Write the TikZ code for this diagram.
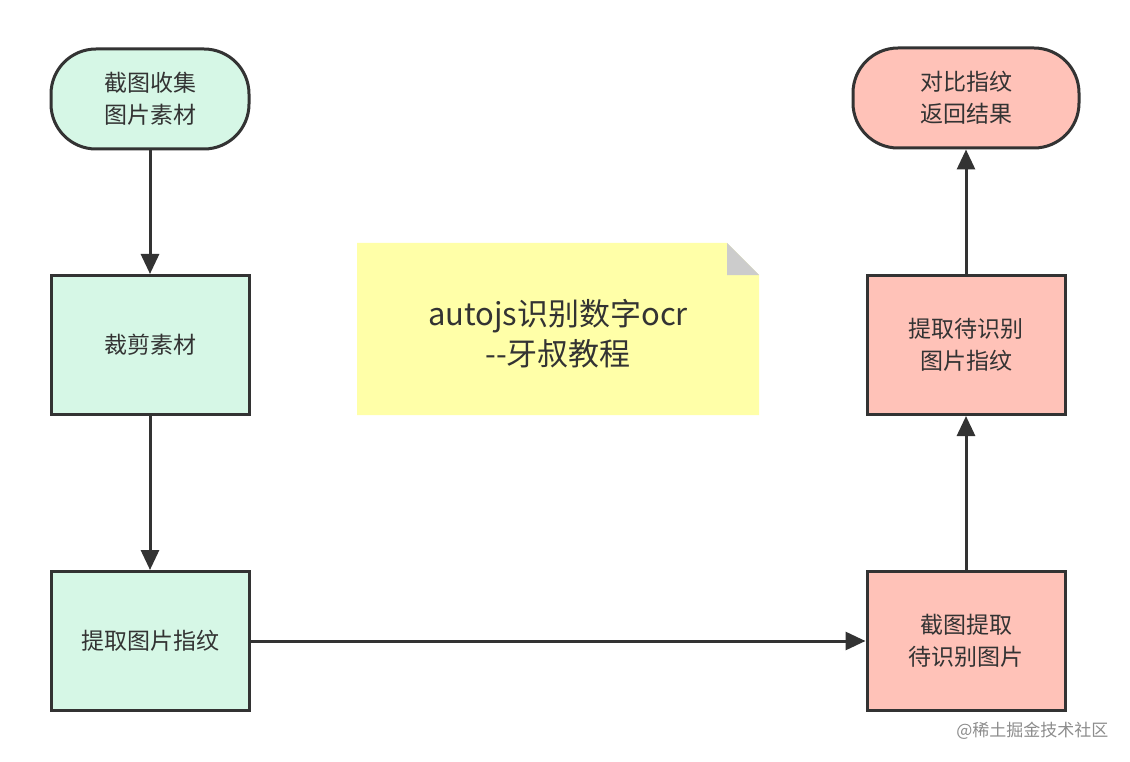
\documentclass[tikz,border=0pt]{standalone}
\usepackage{fontspec}
\setmainfont{Noto Sans CJK SC}
\usetikzlibrary{arrows.meta}
\begin{document}
\begin{tikzpicture}[x=1pt,y=-1pt,
  box/.style={draw=black!80,line width=3pt,minimum width=198pt,minimum height=139pt,align=center,font=\fontsize{23}{32}\selectfont,text=black!80},
  term/.style={box,rounded corners=45pt,minimum height=100pt},
  arr/.style={draw=black!80,line width=3pt,-{Triangle[length=20pt,width=18pt]}}]
\useasboundingbox (0,0) rectangle (1130,762);
\definecolor{gr}{HTML}{D6F7E6}\definecolor{rd}{HTML}{FFC2B8}\definecolor{yl}{HTML}{FFFFA8}
\node[term,fill=gr,minimum width=198pt] (a) at (150,99) {截图收集\\图片素材};
\node[box,fill=gr] (b) at (150,345) {裁剪素材};
\node[box,fill=gr] (c) at (150,641) {提取图片指纹};
\node[box,fill=rd] (d) at (966,641) {截图提取\\待识别图片};
\node[box,fill=rd] (e) at (966,345) {提取待识别\\图片指纹};
\node[term,fill=rd,minimum width=226pt] (f) at (966,98) {对比指纹\\返回结果};
\draw[arr] (a) -- (b);
\draw[arr] (b) -- (c);
\draw[arr] (c) -- (d);
\draw[arr] (d) -- (e);
\draw[arr] (e) -- (f);
\fill[yl] (357,243) -- (727,243) -- (759,275) -- (759,415) -- (357,415) -- cycle;
\fill[black!20] (727,243) -- (759,275) -- (727,275) -- cycle;
\node[align=center,font=\fontsize{31}{40}\selectfont,text=black!80] (n) at (558,334) {autojs识别数字ocr\\{-}{-}牙叔教程};
\node[font=\fontsize{17}{20}\selectfont,text=black!45,anchor=east] (w) at (1112,731) {@稀土掘金技术社区};
\end{tikzpicture}
\end{document}
